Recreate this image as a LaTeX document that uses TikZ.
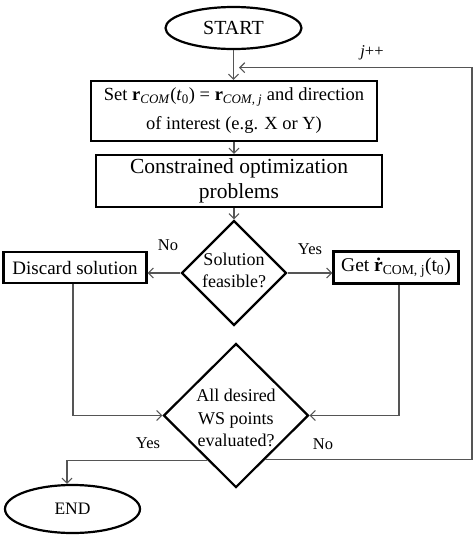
\documentclass[tikz,border=0pt]{standalone}
\usepackage{fontspec}
\setmainfont{Liberation Serif}
\usetikzlibrary{shapes.geometric,arrows.meta,calc}
\definecolor{conngray}{RGB}{85,85,85}
\begin{document}
\begin{tikzpicture}[x=1pt,y=-1pt,
  every node/.style={font=\fontsize{18.5}{22}\selectfont, inner sep=0pt},
  term/.style={ellipse, draw=black, line width=2.2pt},
  procbox/.style={rectangle, draw=black, line width=2.2pt, align=center},
  decide/.style={diamond, draw=black, line width=2.2pt},
  txt/.style={align=center, font=\fontsize{18}{22}\selectfont},
  lbl/.style={font=\fontsize{16.5}{20}\selectfont},
  conn/.style={draw=conngray, line width=1.1pt, -{Straight Barb[length=5pt,width=10pt]}}
]
\useasboundingbox (0,0) rectangle (474,542);

% terminals
\node[term, minimum width=136pt, minimum height=42pt, font=\fontsize{20}{24}\selectfont] (start) at (233.5,28) {START};
\node[term, minimum width=135pt, minimum height=48pt, font=\fontsize{17.5}{21}\selectfont] (end) at (72.5,509) {END};

% process boxes
\node[procbox, minimum width=286pt, minimum height=60pt, font=\fontsize{18.5}{29}\selectfont] (b1) at (234,111)
  {Set \textbf{r}\textsubscript{\textit{COM}}(\textit{t}\textsubscript{0}) = \textbf{r}\textsubscript{\textit{COM, j}} and direction\\ of interest (e.g. X or Y)};
\node[procbox, minimum width=286pt, minimum height=52pt, font=\fontsize{21.5}{25}\selectfont] (b2) at (239,181)
  {Constrained optimization\\problems};
\node[procbox, minimum width=143pt, minimum height=31pt, font=\fontsize{19}{22}\selectfont] (disc) at (75,267.5) {Discard solution};
\node[procbox, minimum width=125pt, minimum height=32pt, font=\fontsize{19.5}{22}\selectfont] (get) at (396,267.5)
  {Get \textbf{\.{r}}\textsubscript{COM, j}(t\textsubscript{0})};

% decisions
\node[decide, minimum width=105pt, minimum height=105pt] (d1) at (234,273) {};
\node[txt] (d1t) at (234,270) {Solution\\feasible?};
\node[decide, minimum width=145pt, minimum height=144pt] (d2) at (236,415.5) {};
\node[txt, font=\fontsize{18}{22.5}\selectfont] (d2t) at (236,418) {All desired\\WS points\\evaluated?};

% labels
\node[lbl] (no1) at (168,245) {No};
\node[lbl] (yes1) at (310,249) {Yes};
\node[lbl] (yes2) at (148,443) {Yes};
\node[lbl] (no2) at (323,444) {No};
\node[lbl] (jpp) at (372,53) {\textit{j}++};

% free ends
\coordinate (loopend) at (239,67.7);
\coordinate (rc) at (472,67.7);

% connectors
\draw[conn] (start.south) -- (start.south |- b1.north);
\draw[conn] (d1.north |- b1.south) -- (d1.north |- b2.north);
\draw[conn] (d1.north |- b2.south) -- (d1.north);
\draw[conn] (d1.west) -- (d1.west -| disc.east);
\draw[conn] (d1.east) -- (d1.east -| get.west);
\draw[conn] ([xshift=-2pt]disc.south) |- (d2.west);
\draw[conn] ([xshift=3pt]get.south) |- (d2.east);
\draw[conn] ($(d2.west)!0.61!(d2.south)$) -| ([xshift=-5.5pt]end.north);
\draw[conn] ($(d2.east)!0.6!(d2.south)$) -| (rc) -- (loopend);
\end{tikzpicture}
\end{document}
